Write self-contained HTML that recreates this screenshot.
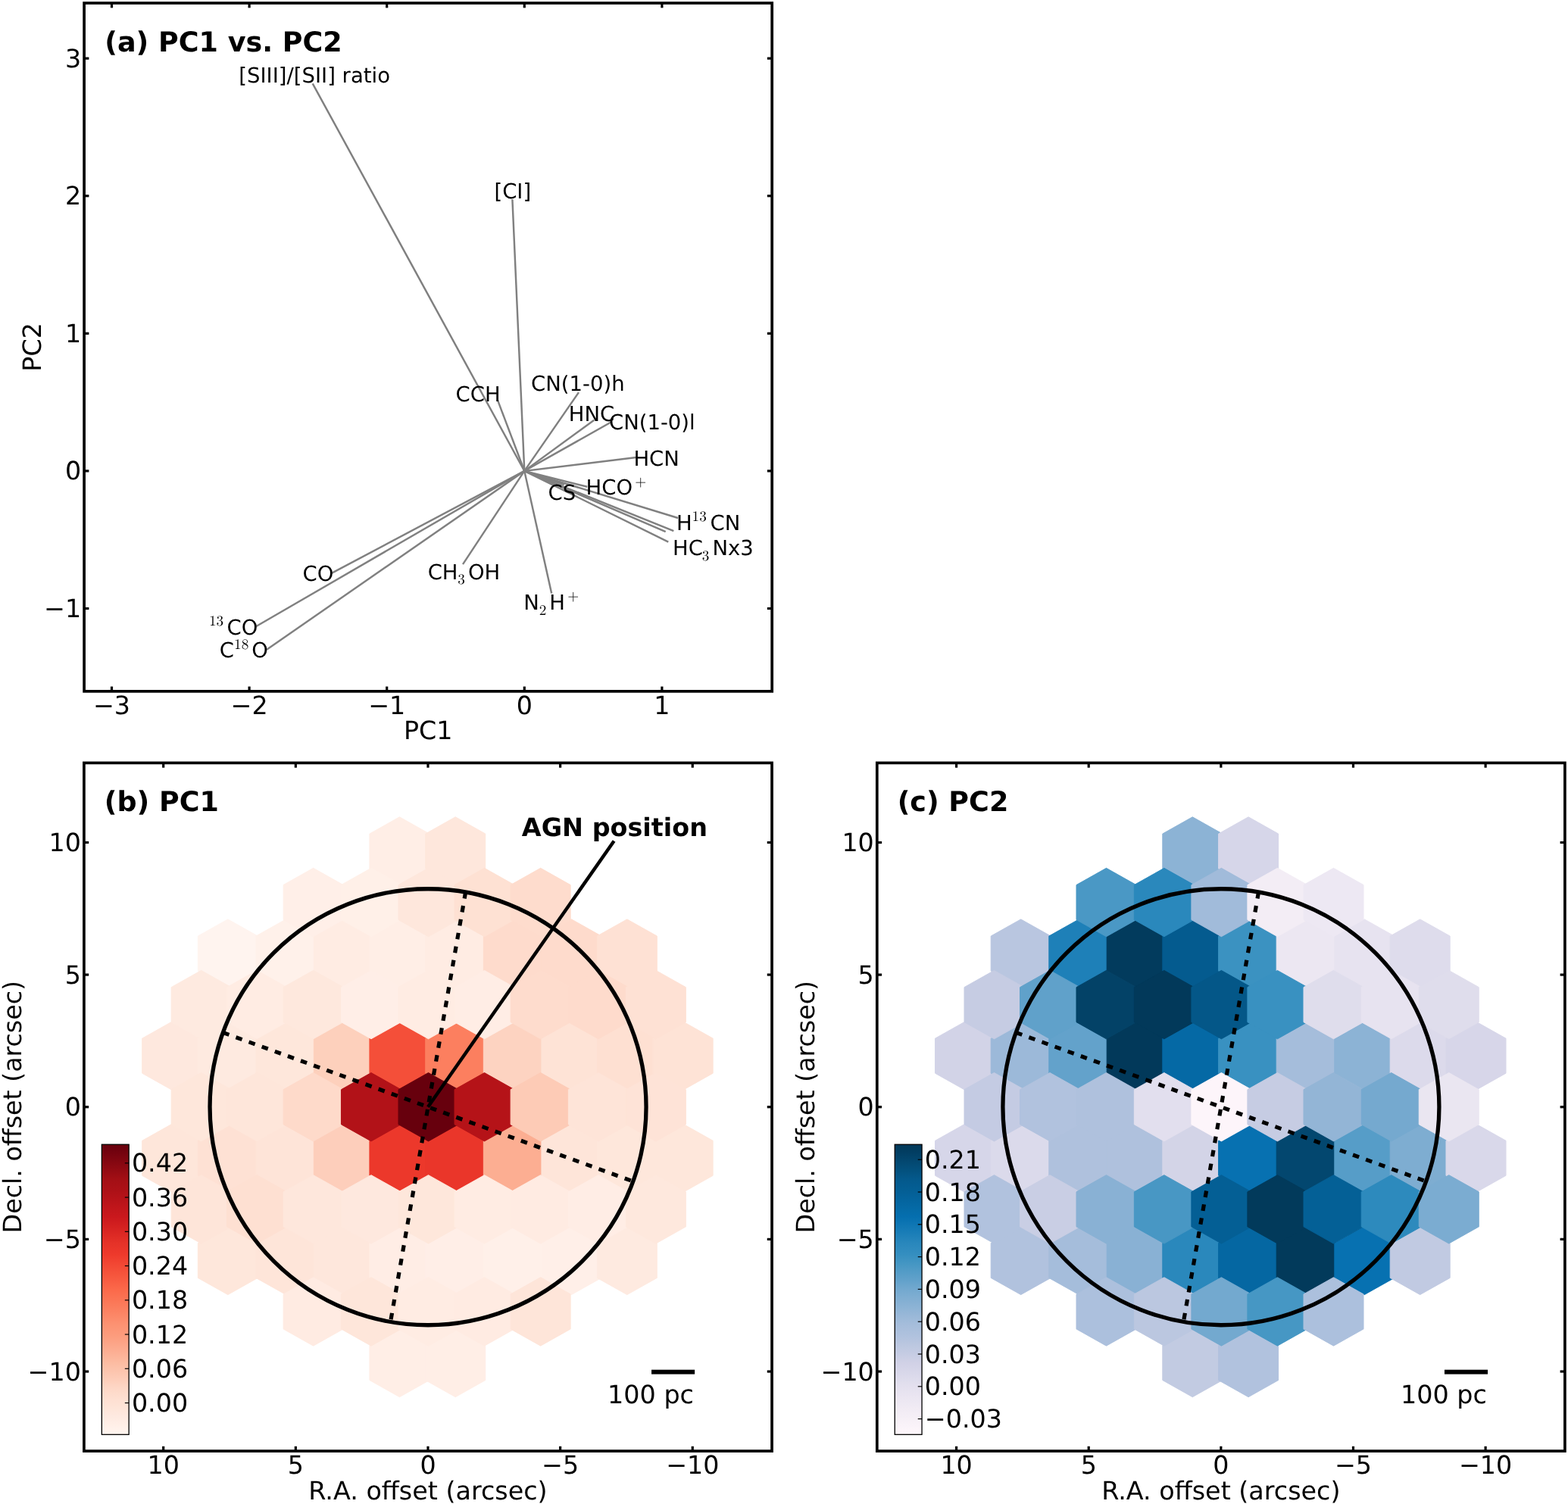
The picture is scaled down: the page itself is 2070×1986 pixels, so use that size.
<!DOCTYPE html>
<html><head><meta charset="utf-8"><title>PCA figure</title><style>html,body{margin:0;padding:0;background:#fff;}svg{display:block;}</style></head><body>
<svg width="2070" height="1986" viewBox="0 0 2070 1986" text-rendering="geometricPrecision">
<rect width="2070" height="1986" fill="#fff"/>
<g>
<line x1="692.3" y1="621.9" x2="413.3" y2="111.4" stroke="#808080" stroke-width="2.45" stroke-linecap="square"/>
<line x1="692.3" y1="621.9" x2="676.45" y2="264.5" stroke="#808080" stroke-width="2.45" stroke-linecap="square"/>
<line x1="692.3" y1="621.9" x2="657.2" y2="529" stroke="#808080" stroke-width="2.45" stroke-linecap="square"/>
<line x1="692.3" y1="621.9" x2="763.3" y2="519.1" stroke="#808080" stroke-width="2.45" stroke-linecap="square"/>
<line x1="692.3" y1="621.9" x2="783.3" y2="555.5" stroke="#808080" stroke-width="2.45" stroke-linecap="square"/>
<line x1="692.3" y1="621.9" x2="805.5" y2="558.1" stroke="#808080" stroke-width="2.45" stroke-linecap="square"/>
<line x1="692.3" y1="621.9" x2="838.6" y2="604.2" stroke="#808080" stroke-width="2.45" stroke-linecap="square"/>
<line x1="692.3" y1="621.9" x2="774.1" y2="642.5" stroke="#808080" stroke-width="2.45" stroke-linecap="square"/>
<line x1="692.3" y1="621.9" x2="743.5" y2="639.8" stroke="#808080" stroke-width="2.45" stroke-linecap="square"/>
<line x1="692.3" y1="621.9" x2="893.9" y2="683.6" stroke="#808080" stroke-width="2.45" stroke-linecap="square"/>
<line x1="692.3" y1="621.9" x2="888.2" y2="700.7" stroke="#808080" stroke-width="2.45" stroke-linecap="square"/>
<line x1="692.3" y1="621.9" x2="877.6" y2="701.7" stroke="#808080" stroke-width="2.45" stroke-linecap="square"/>
<line x1="692.3" y1="621.9" x2="881.2" y2="715" stroke="#808080" stroke-width="2.45" stroke-linecap="square"/>
<line x1="692.3" y1="621.9" x2="438.9" y2="756.3" stroke="#808080" stroke-width="2.45" stroke-linecap="square"/>
<line x1="692.3" y1="621.9" x2="339.4" y2="826.4" stroke="#808080" stroke-width="2.45" stroke-linecap="square"/>
<line x1="692.3" y1="621.9" x2="353.2" y2="857" stroke="#808080" stroke-width="2.45" stroke-linecap="square"/>
<line x1="692.3" y1="621.9" x2="611.7" y2="744.1" stroke="#808080" stroke-width="2.45" stroke-linecap="square"/>
<line x1="692.3" y1="621.9" x2="727.9" y2="782.3" stroke="#808080" stroke-width="2.45" stroke-linecap="square"/>
</g>
<text x="315.24" y="108.8" font-family="'DejaVu Sans','Liberation Sans',sans-serif" font-size="27.5">[SIII]/[SII] ratio</text>
<text x="652.44" y="261.8" font-family="'DejaVu Sans','Liberation Sans',sans-serif" font-size="27.5">[CI]</text>
<text x="601.56" y="529.7" font-family="'DejaVu Sans','Liberation Sans',sans-serif" font-size="27.5">CCH</text>
<text x="701.06" y="515.9" font-family="'DejaVu Sans','Liberation Sans',sans-serif" font-size="27.5">CN(1-0)h</text>
<text x="750.8" y="555.5" font-family="'DejaVu Sans','Liberation Sans',sans-serif" font-size="27.5">HNC</text>
<text x="803.96" y="567.1" font-family="'DejaVu Sans','Liberation Sans',sans-serif" font-size="27.5">CN(1-0)l</text>
<text x="836.4" y="614.6" font-family="'DejaVu Sans','Liberation Sans',sans-serif" font-size="27.5">HCN</text>
<text x="773.5" y="653.1" font-family="'DejaVu Sans','Liberation Sans',sans-serif" font-size="27.5">HCO</text>
<text x="838.32" y="641.8" font-family="'Latin Modern Roman','DejaVu Serif','Liberation Serif',serif" font-size="19.25">+</text>
<text x="723.56" y="660" font-family="'DejaVu Sans','Liberation Sans',sans-serif" font-size="27.5">CS</text>
<text x="893.1" y="699.7" font-family="'DejaVu Sans','Liberation Sans',sans-serif" font-size="27.5">H</text>
<text x="913.59" y="687.8" font-family="'Latin Modern Roman','DejaVu Serif','Liberation Serif',serif" font-size="19.25">13</text>
<text x="937.46" y="699.7" font-family="'DejaVu Sans','Liberation Sans',sans-serif" font-size="27.5">CN</text>
<text x="888" y="733" font-family="'DejaVu Sans','Liberation Sans',sans-serif" font-size="27.5">HC</text>
<text x="926.79" y="739.7" font-family="'Latin Modern Roman','DejaVu Serif','Liberation Serif',serif" font-size="19.25">3</text>
<text x="940.4" y="733" font-family="'DejaVu Sans','Liberation Sans',sans-serif" font-size="27.5">Nx3</text>
<text x="399.56" y="767.2" font-family="'DejaVu Sans','Liberation Sans',sans-serif" font-size="27.5">CO</text>
<text x="275.99" y="826.4" font-family="'Latin Modern Roman','DejaVu Serif','Liberation Serif',serif" font-size="19.25">13</text>
<text x="299.56" y="837.8" font-family="'DejaVu Sans','Liberation Sans',sans-serif" font-size="27.5">CO</text>
<text x="289.86" y="868.4" font-family="'DejaVu Sans','Liberation Sans',sans-serif" font-size="27.5">C</text>
<text x="309.09" y="857" font-family="'Latin Modern Roman','DejaVu Serif','Liberation Serif',serif" font-size="19.25">18</text>
<text x="332.26" y="868.4" font-family="'DejaVu Sans','Liberation Sans',sans-serif" font-size="27.5">O</text>
<text x="564.66" y="764.7" font-family="'DejaVu Sans','Liberation Sans',sans-serif" font-size="27.5">CH</text>
<text x="604.19" y="771.2" font-family="'Latin Modern Roman','DejaVu Serif','Liberation Serif',serif" font-size="19.25">3</text>
<text x="617.96" y="764.7" font-family="'DejaVu Sans','Liberation Sans',sans-serif" font-size="27.5">OH</text>
<text x="691.3" y="805" font-family="'DejaVu Sans','Liberation Sans',sans-serif" font-size="27.5">N</text>
<text x="711.74" y="811.5" font-family="'Latin Modern Roman','DejaVu Serif','Liberation Serif',serif" font-size="19.25">2</text>
<text x="725.2" y="805" font-family="'DejaVu Sans','Liberation Sans',sans-serif" font-size="27.5">H</text>
<text x="749.22" y="793" font-family="'Latin Modern Roman','DejaVu Serif','Liberation Serif',serif" font-size="19.25">+</text>
<line x1="147.5" y1="912.85" x2="147.5" y2="906.55" stroke="#000" stroke-width="3.2"/>
<line x1="147.5" y1="4.05" x2="147.5" y2="10.35" stroke="#000" stroke-width="3.2"/>
<text x="147.5" y="942.95" font-family="'DejaVu Sans','Liberation Sans',sans-serif" font-size="33.3" text-anchor="middle">−3</text>
<line x1="329.1" y1="912.85" x2="329.1" y2="906.55" stroke="#000" stroke-width="3.2"/>
<line x1="329.1" y1="4.05" x2="329.1" y2="10.35" stroke="#000" stroke-width="3.2"/>
<text x="329.1" y="942.95" font-family="'DejaVu Sans','Liberation Sans',sans-serif" font-size="33.3" text-anchor="middle">−2</text>
<line x1="510.7" y1="912.85" x2="510.7" y2="906.55" stroke="#000" stroke-width="3.2"/>
<line x1="510.7" y1="4.05" x2="510.7" y2="10.35" stroke="#000" stroke-width="3.2"/>
<text x="510.7" y="942.95" font-family="'DejaVu Sans','Liberation Sans',sans-serif" font-size="33.3" text-anchor="middle">−1</text>
<line x1="692.3" y1="912.85" x2="692.3" y2="906.55" stroke="#000" stroke-width="3.2"/>
<line x1="692.3" y1="4.05" x2="692.3" y2="10.35" stroke="#000" stroke-width="3.2"/>
<text x="692.3" y="942.95" font-family="'DejaVu Sans','Liberation Sans',sans-serif" font-size="33.3" text-anchor="middle">0</text>
<line x1="873.9" y1="912.85" x2="873.9" y2="906.55" stroke="#000" stroke-width="3.2"/>
<line x1="873.9" y1="4.05" x2="873.9" y2="10.35" stroke="#000" stroke-width="3.2"/>
<text x="873.9" y="942.95" font-family="'DejaVu Sans','Liberation Sans',sans-serif" font-size="33.3" text-anchor="middle">1</text>
<line x1="111.1" y1="803.5" x2="117.4" y2="803.5" stroke="#000" stroke-width="3.2"/>
<line x1="1019.2" y1="803.5" x2="1012.9" y2="803.5" stroke="#000" stroke-width="3.2"/>
<text x="107.1" y="815" font-family="'DejaVu Sans','Liberation Sans',sans-serif" font-size="33.3" text-anchor="end">−1</text>
<line x1="111.1" y1="621.9" x2="117.4" y2="621.9" stroke="#000" stroke-width="3.2"/>
<line x1="1019.2" y1="621.9" x2="1012.9" y2="621.9" stroke="#000" stroke-width="3.2"/>
<text x="107.1" y="633.4" font-family="'DejaVu Sans','Liberation Sans',sans-serif" font-size="33.3" text-anchor="end">0</text>
<line x1="111.1" y1="440.3" x2="117.4" y2="440.3" stroke="#000" stroke-width="3.2"/>
<line x1="1019.2" y1="440.3" x2="1012.9" y2="440.3" stroke="#000" stroke-width="3.2"/>
<text x="107.1" y="451.8" font-family="'DejaVu Sans','Liberation Sans',sans-serif" font-size="33.3" text-anchor="end">1</text>
<line x1="111.1" y1="258.7" x2="117.4" y2="258.7" stroke="#000" stroke-width="3.2"/>
<line x1="1019.2" y1="258.7" x2="1012.9" y2="258.7" stroke="#000" stroke-width="3.2"/>
<text x="107.1" y="270.2" font-family="'DejaVu Sans','Liberation Sans',sans-serif" font-size="33.3" text-anchor="end">2</text>
<line x1="111.1" y1="77.1" x2="117.4" y2="77.1" stroke="#000" stroke-width="3.2"/>
<line x1="1019.2" y1="77.1" x2="1012.9" y2="77.1" stroke="#000" stroke-width="3.2"/>
<text x="107.1" y="88.6" font-family="'DejaVu Sans','Liberation Sans',sans-serif" font-size="33.3" text-anchor="end">3</text>
<rect x="111.1" y="4.05" width="908.1" height="908.8" fill="none" stroke="#000" stroke-width="3.7" stroke-linejoin="miter"/>
<text x="565.15" y="975.7" font-family="'DejaVu Sans','Liberation Sans',sans-serif" font-size="33.3" text-anchor="middle">PC1</text>
<text transform="translate(53.8 458.45) rotate(-90)" font-family="'DejaVu Sans','Liberation Sans',sans-serif" font-size="33.3" text-anchor="middle">PC2</text>
<text x="138.31" y="67.9" font-family="'DejaVu Sans','Liberation Sans',sans-serif" font-size="36.5" font-weight="bold">(a) PC1 vs. PC2</text>
<clipPath id="clip110"><rect x="110.9" y="1007.4" width="908.16" height="908.7"/></clipPath>
<g clip-path="url(#clip110)">
<g>
<polygon points="527.43,1078.8 566.93,1101 566.93,1147 527.43,1169.2 487.93,1147 487.93,1101" fill="#ffeee6" stroke="#ffeee6" stroke-width="1"/>
<polygon points="601.23,1078.8 640.73,1101 640.73,1147 601.23,1169.2 561.73,1147 561.73,1101" fill="#fee7dc" stroke="#fee7dc" stroke-width="1"/>
<polygon points="300.83,1213.9 340.33,1236.1 340.33,1282.1 300.83,1304.3 261.33,1282.1 261.33,1236.1" fill="#fff4ef" stroke="#fff4ef" stroke-width="1"/>
<polygon points="377.43,1213.9 416.93,1236.1 416.93,1282.1 377.43,1304.3 337.93,1282.1 337.93,1236.1" fill="#fff1ea" stroke="#fff1ea" stroke-width="1"/>
<polygon points="453.83,1213.9 493.33,1236.1 493.33,1282.1 453.83,1304.3 414.33,1282.1 414.33,1236.1" fill="#ffece3" stroke="#ffece3" stroke-width="1"/>
<polygon points="527.43,1213.9 566.93,1236.1 566.93,1282.1 527.43,1304.3 487.93,1282.1 487.93,1236.1" fill="#ffeee6" stroke="#ffeee6" stroke-width="1"/>
<polygon points="601.23,1213.9 640.73,1236.1 640.73,1282.1 601.23,1304.3 561.73,1282.1 561.73,1236.1" fill="#ffece3" stroke="#ffece3" stroke-width="1"/>
<polygon points="677.83,1213.9 717.33,1236.1 717.33,1282.1 677.83,1304.3 638.33,1282.1 638.33,1236.1" fill="#fedbcc" stroke="#fedbcc" stroke-width="1"/>
<polygon points="754.43,1213.9 793.93,1236.1 793.93,1282.1 754.43,1304.3 714.93,1282.1 714.93,1236.1" fill="#fedbcc" stroke="#fedbcc" stroke-width="1"/>
<polygon points="827.83,1213.9 867.33,1236.1 867.33,1282.1 827.83,1304.3 788.33,1282.1 788.33,1236.1" fill="#fee1d4" stroke="#fee1d4" stroke-width="1"/>
<polygon points="227.18,1349 266.68,1371.2 266.68,1417.2 227.18,1439.4 187.68,1417.2 187.68,1371.2" fill="#fee8de" stroke="#fee8de" stroke-width="1"/>
<polygon points="300.83,1349 340.33,1371.2 340.33,1417.2 300.83,1439.4 261.33,1417.2 261.33,1371.2" fill="#feeae0" stroke="#feeae0" stroke-width="1"/>
<polygon points="377.43,1349 416.93,1371.2 416.93,1417.2 377.43,1439.4 337.93,1417.2 337.93,1371.2" fill="#fee7db" stroke="#fee7db" stroke-width="1"/>
<polygon points="453.83,1349 493.33,1371.2 493.33,1417.2 453.83,1439.4 414.33,1417.2 414.33,1371.2" fill="#fdd0bc" stroke="#fdd0bc" stroke-width="1"/>
<polygon points="527.43,1349 566.93,1371.2 566.93,1417.2 527.43,1439.4 487.93,1417.2 487.93,1371.2" fill="#f44f39" stroke="#f44f39" stroke-width="1"/>
<polygon points="601.23,1349 640.73,1371.2 640.73,1417.2 601.23,1439.4 561.73,1417.2 561.73,1371.2" fill="#fc7f5f" stroke="#fc7f5f" stroke-width="1"/>
<polygon points="677.83,1349 717.33,1371.2 717.33,1417.2 677.83,1439.4 638.33,1417.2 638.33,1371.2" fill="#fdd3c1" stroke="#fdd3c1" stroke-width="1"/>
<polygon points="754.43,1349 793.93,1371.2 793.93,1417.2 754.43,1439.4 714.93,1417.2 714.93,1371.2" fill="#fee3d6" stroke="#fee3d6" stroke-width="1"/>
<polygon points="827.83,1349 867.33,1371.2 867.33,1417.2 827.83,1439.4 788.33,1417.2 788.33,1371.2" fill="#fee0d2" stroke="#fee0d2" stroke-width="1"/>
<polygon points="901.63,1349 941.13,1371.2 941.13,1417.2 901.63,1439.4 862.13,1417.2 862.13,1371.2" fill="#fee3d6" stroke="#fee3d6" stroke-width="1"/>
<polygon points="227.18,1484.1 266.68,1506.3 266.68,1552.3 227.18,1574.5 187.68,1552.3 187.68,1506.3" fill="#fee6da" stroke="#fee6da" stroke-width="1"/>
<polygon points="300.83,1484.1 340.33,1506.3 340.33,1552.3 300.83,1574.5 261.33,1552.3 261.33,1506.3" fill="#fee1d4" stroke="#fee1d4" stroke-width="1"/>
<polygon points="377.43,1484.1 416.93,1506.3 416.93,1552.3 377.43,1574.5 337.93,1552.3 337.93,1506.3" fill="#fee4d8" stroke="#fee4d8" stroke-width="1"/>
<polygon points="453.83,1484.1 493.33,1506.3 493.33,1552.3 453.83,1574.5 414.33,1552.3 414.33,1506.3" fill="#fdcebb" stroke="#fdcebb" stroke-width="1"/>
<polygon points="527.43,1484.1 566.93,1506.3 566.93,1552.3 527.43,1574.5 487.93,1552.3 487.93,1506.3" fill="#ec382b" stroke="#ec382b" stroke-width="1"/>
<polygon points="601.23,1484.1 640.73,1506.3 640.73,1552.3 601.23,1574.5 561.73,1552.3 561.73,1506.3" fill="#ea362a" stroke="#ea362a" stroke-width="1"/>
<polygon points="677.83,1484.1 717.33,1506.3 717.33,1552.3 677.83,1574.5 638.33,1552.3 638.33,1506.3" fill="#fcae92" stroke="#fcae92" stroke-width="1"/>
<polygon points="754.43,1484.1 793.93,1506.3 793.93,1552.3 754.43,1574.5 714.93,1552.3 714.93,1506.3" fill="#fee5d9" stroke="#fee5d9" stroke-width="1"/>
<polygon points="827.83,1484.1 867.33,1506.3 867.33,1552.3 827.83,1574.5 788.33,1552.3 788.33,1506.3" fill="#fee7db" stroke="#fee7db" stroke-width="1"/>
<polygon points="901.63,1484.1 941.13,1506.3 941.13,1552.3 901.63,1574.5 862.13,1552.3 862.13,1506.3" fill="#fee7db" stroke="#fee7db" stroke-width="1"/>
<polygon points="300.83,1619.2 340.33,1641.4 340.33,1687.4 300.83,1709.6 261.33,1687.4 261.33,1641.4" fill="#fee7db" stroke="#fee7db" stroke-width="1"/>
<polygon points="377.43,1619.2 416.93,1641.4 416.93,1687.4 377.43,1709.6 337.93,1687.4 337.93,1641.4" fill="#fee5d9" stroke="#fee5d9" stroke-width="1"/>
<polygon points="453.83,1619.2 493.33,1641.4 493.33,1687.4 453.83,1709.6 414.33,1687.4 414.33,1641.4" fill="#fee7dc" stroke="#fee7dc" stroke-width="1"/>
<polygon points="527.43,1619.2 566.93,1641.4 566.93,1687.4 527.43,1709.6 487.93,1687.4 487.93,1641.4" fill="#ffede5" stroke="#ffede5" stroke-width="1"/>
<polygon points="601.23,1619.2 640.73,1641.4 640.73,1687.4 601.23,1709.6 561.73,1687.4 561.73,1641.4" fill="#ffeee7" stroke="#ffeee7" stroke-width="1"/>
<polygon points="677.83,1619.2 717.33,1641.4 717.33,1687.4 677.83,1709.6 638.33,1687.4 638.33,1641.4" fill="#fff0e9" stroke="#fff0e9" stroke-width="1"/>
<polygon points="754.43,1619.2 793.93,1641.4 793.93,1687.4 754.43,1709.6 714.93,1687.4 714.93,1641.4" fill="#ffefe8" stroke="#ffefe8" stroke-width="1"/>
<polygon points="827.83,1619.2 867.33,1641.4 867.33,1687.4 827.83,1709.6 788.33,1687.4 788.33,1641.4" fill="#feeae0" stroke="#feeae0" stroke-width="1"/>
<polygon points="527.43,1754.3 566.93,1776.5 566.93,1822.5 527.43,1844.7 487.93,1822.5 487.93,1776.5" fill="#ffeee6" stroke="#ffeee6" stroke-width="1"/>
<polygon points="601.23,1754.3 640.73,1776.5 640.73,1822.5 601.23,1844.7 561.73,1822.5 561.73,1776.5" fill="#ffeee6" stroke="#ffeee6" stroke-width="1"/>
<polygon points="413.63,1146.35 453.13,1168.55 453.13,1214.55 413.63,1236.75 374.13,1214.55 374.13,1168.55" fill="#ffefe8" stroke="#ffefe8" stroke-width="1"/>
<polygon points="489.98,1146.35 529.48,1168.55 529.48,1214.55 489.98,1236.75 450.48,1214.55 450.48,1168.55" fill="#fff0e8" stroke="#fff0e8" stroke-width="1"/>
<polygon points="565.53,1146.35 605.03,1168.55 605.03,1214.55 565.53,1236.75 526.03,1214.55 526.03,1168.55" fill="#fee7dc" stroke="#fee7dc" stroke-width="1"/>
<polygon points="639.53,1146.35 679.03,1168.55 679.03,1214.55 639.53,1236.75 600.03,1214.55 600.03,1168.55" fill="#fee1d3" stroke="#fee1d3" stroke-width="1"/>
<polygon points="713.63,1146.35 753.13,1168.55 753.13,1214.55 713.63,1236.75 674.13,1214.55 674.13,1168.55" fill="#fedccd" stroke="#fedccd" stroke-width="1"/>
<polygon points="265.63,1281.45 305.13,1303.65 305.13,1349.65 265.63,1371.85 226.13,1349.65 226.13,1303.65" fill="#feeae0" stroke="#feeae0" stroke-width="1"/>
<polygon points="339.18,1281.45 378.68,1303.65 378.68,1349.65 339.18,1371.85 299.68,1349.65 299.68,1303.65" fill="#ffece3" stroke="#ffece3" stroke-width="1"/>
<polygon points="413.63,1281.45 453.13,1303.65 453.13,1349.65 413.63,1371.85 374.13,1349.65 374.13,1303.65" fill="#fee8dd" stroke="#fee8dd" stroke-width="1"/>
<polygon points="489.98,1281.45 529.48,1303.65 529.48,1349.65 489.98,1371.85 450.48,1349.65 450.48,1303.65" fill="#ffeee7" stroke="#ffeee7" stroke-width="1"/>
<polygon points="565.53,1281.45 605.03,1303.65 605.03,1349.65 565.53,1371.85 526.03,1349.65 526.03,1303.65" fill="#ffece3" stroke="#ffece3" stroke-width="1"/>
<polygon points="639.53,1281.45 679.03,1303.65 679.03,1349.65 639.53,1371.85 600.03,1349.65 600.03,1303.65" fill="#ffede5" stroke="#ffede5" stroke-width="1"/>
<polygon points="713.63,1281.45 753.13,1303.65 753.13,1349.65 713.63,1371.85 674.13,1349.65 674.13,1303.65" fill="#fedccd" stroke="#fedccd" stroke-width="1"/>
<polygon points="789.88,1281.45 829.38,1303.65 829.38,1349.65 789.88,1371.85 750.38,1349.65 750.38,1303.65" fill="#fedbcc" stroke="#fedbcc" stroke-width="1"/>
<polygon points="865.88,1281.45 905.38,1303.65 905.38,1349.65 865.88,1371.85 826.38,1349.65 826.38,1303.65" fill="#fee1d4" stroke="#fee1d4" stroke-width="1"/>
<polygon points="265.63,1416.55 305.13,1438.75 305.13,1484.75 265.63,1506.95 226.13,1484.75 226.13,1438.75" fill="#fee7db" stroke="#fee7db" stroke-width="1"/>
<polygon points="339.18,1416.55 378.68,1438.75 378.68,1484.75 339.18,1506.95 299.68,1484.75 299.68,1438.75" fill="#fee6da" stroke="#fee6da" stroke-width="1"/>
<polygon points="413.63,1416.55 453.13,1438.75 453.13,1484.75 413.63,1506.95 374.13,1484.75 374.13,1438.75" fill="#fedaca" stroke="#fedaca" stroke-width="1"/>
<polygon points="489.98,1416.55 529.48,1438.75 529.48,1484.75 489.98,1506.95 450.48,1484.75 450.48,1438.75" fill="#b21218" stroke="#b21218" stroke-width="1"/>
<polygon points="565.53,1416.55 605.03,1438.75 605.03,1484.75 565.53,1506.95 526.03,1484.75 526.03,1438.75" fill="#67000d" stroke="#67000d" stroke-width="1"/>
<polygon points="639.53,1416.55 679.03,1438.75 679.03,1484.75 639.53,1506.95 600.03,1484.75 600.03,1438.75" fill="#b51318" stroke="#b51318" stroke-width="1"/>
<polygon points="713.63,1416.55 753.13,1438.75 753.13,1484.75 713.63,1506.95 674.13,1484.75 674.13,1438.75" fill="#fdcbb6" stroke="#fdcbb6" stroke-width="1"/>
<polygon points="789.88,1416.55 829.38,1438.75 829.38,1484.75 789.88,1506.95 750.38,1484.75 750.38,1438.75" fill="#fee4d8" stroke="#fee4d8" stroke-width="1"/>
<polygon points="865.88,1416.55 905.38,1438.75 905.38,1484.75 865.88,1506.95 826.38,1484.75 826.38,1438.75" fill="#fee3d7" stroke="#fee3d7" stroke-width="1"/>
<polygon points="265.63,1551.65 305.13,1573.85 305.13,1619.85 265.63,1642.05 226.13,1619.85 226.13,1573.85" fill="#fee5d9" stroke="#fee5d9" stroke-width="1"/>
<polygon points="339.18,1551.65 378.68,1573.85 378.68,1619.85 339.18,1642.05 299.68,1619.85 299.68,1573.85" fill="#fee0d2" stroke="#fee0d2" stroke-width="1"/>
<polygon points="413.63,1551.65 453.13,1573.85 453.13,1619.85 413.63,1642.05 374.13,1619.85 374.13,1573.85" fill="#fee7dc" stroke="#fee7dc" stroke-width="1"/>
<polygon points="489.98,1551.65 529.48,1573.85 529.48,1619.85 489.98,1642.05 450.48,1619.85 450.48,1573.85" fill="#fee8de" stroke="#fee8de" stroke-width="1"/>
<polygon points="565.53,1551.65 605.03,1573.85 605.03,1619.85 565.53,1642.05 526.03,1619.85 526.03,1573.85" fill="#fee7db" stroke="#fee7db" stroke-width="1"/>
<polygon points="639.53,1551.65 679.03,1573.85 679.03,1619.85 639.53,1642.05 600.03,1619.85 600.03,1573.85" fill="#ffece3" stroke="#ffece3" stroke-width="1"/>
<polygon points="713.63,1551.65 753.13,1573.85 753.13,1619.85 713.63,1642.05 674.13,1619.85 674.13,1573.85" fill="#ffebe2" stroke="#ffebe2" stroke-width="1"/>
<polygon points="789.88,1551.65 829.38,1573.85 829.38,1619.85 789.88,1642.05 750.38,1619.85 750.38,1573.85" fill="#ffede5" stroke="#ffede5" stroke-width="1"/>
<polygon points="865.88,1551.65 905.38,1573.85 905.38,1619.85 865.88,1642.05 826.38,1619.85 826.38,1573.85" fill="#fee8dd" stroke="#fee8dd" stroke-width="1"/>
<polygon points="413.63,1686.75 453.13,1708.95 453.13,1754.95 413.63,1777.15 374.13,1754.95 374.13,1708.95" fill="#ffebe2" stroke="#ffebe2" stroke-width="1"/>
<polygon points="489.98,1686.75 529.48,1708.95 529.48,1754.95 489.98,1777.15 450.48,1754.95 450.48,1708.95" fill="#fee6da" stroke="#fee6da" stroke-width="1"/>
<polygon points="565.53,1686.75 605.03,1708.95 605.03,1754.95 565.53,1777.15 526.03,1754.95 526.03,1708.95" fill="#ffece3" stroke="#ffece3" stroke-width="1"/>
<polygon points="639.53,1686.75 679.03,1708.95 679.03,1754.95 639.53,1777.15 600.03,1754.95 600.03,1708.95" fill="#ffebe2" stroke="#ffebe2" stroke-width="1"/>
<polygon points="713.63,1686.75 753.13,1708.95 753.13,1754.95 713.63,1777.15 674.13,1754.95 674.13,1708.95" fill="#fee5d9" stroke="#fee5d9" stroke-width="1"/>
</g>
<line x1="614.64" y1="1178.05" x2="515.52" y2="1745.45" stroke="#000" stroke-width="5.2" stroke-dasharray="8.6 9.6"/>
<line x1="294.36" y1="1363.48" x2="835.8" y2="1560.02" stroke="#000" stroke-width="5.2" stroke-dasharray="8.6 9.6"/>
<circle cx="565.05" cy="1461.75" r="288" fill="none" stroke="#000" stroke-width="5.3"/>
<line x1="564.98" y1="1461.75" x2="810.6" y2="1110.5" stroke="#000" stroke-width="4.5"/>
<text x="688.84" y="1103.8" font-family="'DejaVu Sans','Liberation Sans',sans-serif" font-size="33.4" font-weight="bold">AGN position</text>
<rect x="860.05" y="1808.7" width="57.1" height="5.9" fill="#000"/>
<text x="915.95" y="1853.2" font-family="'DejaVu Sans','Liberation Sans',sans-serif" font-size="33.4" text-anchor="end">100 pc</text>
</g>
<linearGradient id="grad110" x1="0" y1="0" x2="0" y2="1"><stop offset="0" stop-color="#67000d"/><stop offset="0.03" stop-color="#75030f"/><stop offset="0.06" stop-color="#840711"/><stop offset="0.09" stop-color="#940b13"/><stop offset="0.12" stop-color="#a30f15"/><stop offset="0.16" stop-color="#ad1117"/><stop offset="0.19" stop-color="#b71319"/><stop offset="0.22" stop-color="#c1161b"/><stop offset="0.25" stop-color="#ca181d"/><stop offset="0.28" stop-color="#d32020"/><stop offset="0.31" stop-color="#dc2924"/><stop offset="0.34" stop-color="#e53228"/><stop offset="0.38" stop-color="#ee3a2c"/><stop offset="0.41" stop-color="#f24633"/><stop offset="0.44" stop-color="#f5523a"/><stop offset="0.47" stop-color="#f85d42"/><stop offset="0.5" stop-color="#fb694a"/><stop offset="0.53" stop-color="#fb7353"/><stop offset="0.56" stop-color="#fb7d5d"/><stop offset="0.59" stop-color="#fc8767"/><stop offset="0.62" stop-color="#fc9272"/><stop offset="0.66" stop-color="#fc9c7d"/><stop offset="0.69" stop-color="#fca689"/><stop offset="0.72" stop-color="#fcb095"/><stop offset="0.75" stop-color="#fcbba1"/><stop offset="0.78" stop-color="#fcc4ad"/><stop offset="0.81" stop-color="#fdcdb9"/><stop offset="0.84" stop-color="#fdd7c6"/><stop offset="0.88" stop-color="#fee0d2"/><stop offset="0.91" stop-color="#fee5d9"/><stop offset="0.94" stop-color="#feeae1"/><stop offset="0.97" stop-color="#fff0e8"/><stop offset="1" stop-color="#fff5f0"/></linearGradient>
<rect x="134.35" y="1511.25" width="35.8" height="383.05" fill="url(#grad110)"/>
<line x1="170.15" y1="1852.53" x2="164.85" y2="1852.53" stroke="#000" stroke-width="1.2"/>
<text x="173.95" y="1864.03" font-family="'DejaVu Sans','Liberation Sans',sans-serif" font-size="33.3">0.00</text>
<line x1="170.15" y1="1807.28" x2="164.85" y2="1807.28" stroke="#000" stroke-width="1.2"/>
<text x="173.95" y="1818.78" font-family="'DejaVu Sans','Liberation Sans',sans-serif" font-size="33.3">0.06</text>
<line x1="170.15" y1="1762.04" x2="164.85" y2="1762.04" stroke="#000" stroke-width="1.2"/>
<text x="173.95" y="1773.54" font-family="'DejaVu Sans','Liberation Sans',sans-serif" font-size="33.3">0.12</text>
<line x1="170.15" y1="1716.8" x2="164.85" y2="1716.8" stroke="#000" stroke-width="1.2"/>
<text x="173.95" y="1728.3" font-family="'DejaVu Sans','Liberation Sans',sans-serif" font-size="33.3">0.18</text>
<line x1="170.15" y1="1671.56" x2="164.85" y2="1671.56" stroke="#000" stroke-width="1.2"/>
<text x="173.95" y="1683.06" font-family="'DejaVu Sans','Liberation Sans',sans-serif" font-size="33.3">0.24</text>
<line x1="170.15" y1="1626.32" x2="164.85" y2="1626.32" stroke="#000" stroke-width="1.2"/>
<text x="173.95" y="1637.82" font-family="'DejaVu Sans','Liberation Sans',sans-serif" font-size="33.3">0.30</text>
<line x1="170.15" y1="1581.07" x2="164.85" y2="1581.07" stroke="#000" stroke-width="1.2"/>
<text x="173.95" y="1592.57" font-family="'DejaVu Sans','Liberation Sans',sans-serif" font-size="33.3">0.36</text>
<line x1="170.15" y1="1535.83" x2="164.85" y2="1535.83" stroke="#000" stroke-width="1.2"/>
<text x="173.95" y="1547.33" font-family="'DejaVu Sans','Liberation Sans',sans-serif" font-size="33.3">0.42</text>
<rect x="134.35" y="1511.25" width="35.8" height="383.05" fill="none" stroke="#000" stroke-width="1.3"/>
<line x1="215.69" y1="1916.1" x2="215.69" y2="1909.8" stroke="#000" stroke-width="3.2"/>
<line x1="215.69" y1="1007.4" x2="215.69" y2="1013.7" stroke="#000" stroke-width="3.2"/>
<text x="215.69" y="1946.2" font-family="'DejaVu Sans','Liberation Sans',sans-serif" font-size="33.3" text-anchor="middle">10</text>
<line x1="390.33" y1="1916.1" x2="390.33" y2="1909.8" stroke="#000" stroke-width="3.2"/>
<line x1="390.33" y1="1007.4" x2="390.33" y2="1013.7" stroke="#000" stroke-width="3.2"/>
<text x="390.33" y="1946.2" font-family="'DejaVu Sans','Liberation Sans',sans-serif" font-size="33.3" text-anchor="middle">5</text>
<line x1="564.98" y1="1916.1" x2="564.98" y2="1909.8" stroke="#000" stroke-width="3.2"/>
<line x1="564.98" y1="1007.4" x2="564.98" y2="1013.7" stroke="#000" stroke-width="3.2"/>
<text x="564.98" y="1946.2" font-family="'DejaVu Sans','Liberation Sans',sans-serif" font-size="33.3" text-anchor="middle">0</text>
<line x1="739.63" y1="1916.1" x2="739.63" y2="1909.8" stroke="#000" stroke-width="3.2"/>
<line x1="739.63" y1="1007.4" x2="739.63" y2="1013.7" stroke="#000" stroke-width="3.2"/>
<text x="739.63" y="1946.2" font-family="'DejaVu Sans','Liberation Sans',sans-serif" font-size="33.3" text-anchor="middle">−5</text>
<line x1="914.27" y1="1916.1" x2="914.27" y2="1909.8" stroke="#000" stroke-width="3.2"/>
<line x1="914.27" y1="1007.4" x2="914.27" y2="1013.7" stroke="#000" stroke-width="3.2"/>
<text x="914.27" y="1946.2" font-family="'DejaVu Sans','Liberation Sans',sans-serif" font-size="33.3" text-anchor="middle">−10</text>
<line x1="110.9" y1="1811.04" x2="117.2" y2="1811.04" stroke="#000" stroke-width="3.2"/>
<line x1="1019.06" y1="1811.04" x2="1012.76" y2="1811.04" stroke="#000" stroke-width="3.2"/>
<text x="106.9" y="1822.54" font-family="'DejaVu Sans','Liberation Sans',sans-serif" font-size="33.3" text-anchor="end">−10</text>
<line x1="110.9" y1="1636.4" x2="117.2" y2="1636.4" stroke="#000" stroke-width="3.2"/>
<line x1="1019.06" y1="1636.4" x2="1012.76" y2="1636.4" stroke="#000" stroke-width="3.2"/>
<text x="106.9" y="1647.9" font-family="'DejaVu Sans','Liberation Sans',sans-serif" font-size="33.3" text-anchor="end">−5</text>
<line x1="110.9" y1="1461.75" x2="117.2" y2="1461.75" stroke="#000" stroke-width="3.2"/>
<line x1="1019.06" y1="1461.75" x2="1012.76" y2="1461.75" stroke="#000" stroke-width="3.2"/>
<text x="106.9" y="1473.25" font-family="'DejaVu Sans','Liberation Sans',sans-serif" font-size="33.3" text-anchor="end">0</text>
<line x1="110.9" y1="1287.1" x2="117.2" y2="1287.1" stroke="#000" stroke-width="3.2"/>
<line x1="1019.06" y1="1287.1" x2="1012.76" y2="1287.1" stroke="#000" stroke-width="3.2"/>
<text x="106.9" y="1298.6" font-family="'DejaVu Sans','Liberation Sans',sans-serif" font-size="33.3" text-anchor="end">5</text>
<line x1="110.9" y1="1112.46" x2="117.2" y2="1112.46" stroke="#000" stroke-width="3.2"/>
<line x1="1019.06" y1="1112.46" x2="1012.76" y2="1112.46" stroke="#000" stroke-width="3.2"/>
<text x="106.9" y="1123.96" font-family="'DejaVu Sans','Liberation Sans',sans-serif" font-size="33.3" text-anchor="end">10</text>
<rect x="110.9" y="1007.4" width="908.16" height="908.7" fill="none" stroke="#000" stroke-width="3.7" stroke-linejoin="miter"/>
<text x="564.98" y="1979.9" font-family="'DejaVu Sans','Liberation Sans',sans-serif" font-size="33.4" text-anchor="middle">R.A. offset (arcsec)</text>
<text transform="translate(27.95 1461.75) rotate(-90)" font-family="'DejaVu Sans','Liberation Sans',sans-serif" font-size="33.3" text-anchor="middle">Decl. offset (arcsec)</text>
<text x="137.76" y="1071.2" font-family="'DejaVu Sans','Liberation Sans',sans-serif" font-size="36.5" font-weight="bold">(b) PC1</text>
<clipPath id="clip1157"><rect x="1157.8" y="1007.4" width="908.1" height="908.7"/></clipPath>
<g clip-path="url(#clip1157)">
<g>
<polygon points="1574.3,1078.8 1613.8,1101 1613.8,1147 1574.3,1169.2 1534.8,1147 1534.8,1101" fill="#8cb3d5" stroke="#8cb3d5" stroke-width="1"/>
<polygon points="1648.1,1078.8 1687.6,1101 1687.6,1147 1648.1,1169.2 1608.6,1147 1608.6,1101" fill="#d6d6e9" stroke="#d6d6e9" stroke-width="1"/>
<polygon points="1347.7,1213.9 1387.2,1236.1 1387.2,1282.1 1347.7,1304.3 1308.2,1282.1 1308.2,1236.1" fill="#b9c6e0" stroke="#b9c6e0" stroke-width="1"/>
<polygon points="1424.3,1213.9 1463.8,1236.1 1463.8,1282.1 1424.3,1304.3 1384.8,1282.1 1384.8,1236.1" fill="#1e80b8" stroke="#1e80b8" stroke-width="1"/>
<polygon points="1500.7,1213.9 1540.2,1236.1 1540.2,1282.1 1500.7,1304.3 1461.2,1282.1 1461.2,1236.1" fill="#023b5d" stroke="#023b5d" stroke-width="1"/>
<polygon points="1574.3,1213.9 1613.8,1236.1 1613.8,1282.1 1574.3,1304.3 1534.8,1282.1 1534.8,1236.1" fill="#045b8f" stroke="#045b8f" stroke-width="1"/>
<polygon points="1648.1,1213.9 1687.6,1236.1 1687.6,1282.1 1648.1,1304.3 1608.6,1282.1 1608.6,1236.1" fill="#3b92c1" stroke="#3b92c1" stroke-width="1"/>
<polygon points="1724.7,1213.9 1764.2,1236.1 1764.2,1282.1 1724.7,1304.3 1685.2,1282.1 1685.2,1236.1" fill="#ece7f2" stroke="#ece7f2" stroke-width="1"/>
<polygon points="1801.3,1213.9 1840.8,1236.1 1840.8,1282.1 1801.3,1304.3 1761.8,1282.1 1761.8,1236.1" fill="#e7e3f0" stroke="#e7e3f0" stroke-width="1"/>
<polygon points="1874.7,1213.9 1914.2,1236.1 1914.2,1282.1 1874.7,1304.3 1835.2,1282.1 1835.2,1236.1" fill="#dedcec" stroke="#dedcec" stroke-width="1"/>
<polygon points="1274.05,1349 1313.55,1371.2 1313.55,1417.2 1274.05,1439.4 1234.55,1417.2 1234.55,1371.2" fill="#d2d3e7" stroke="#d2d3e7" stroke-width="1"/>
<polygon points="1347.7,1349 1387.2,1371.2 1387.2,1417.2 1347.7,1439.4 1308.2,1417.2 1308.2,1371.2" fill="#9cb9d9" stroke="#9cb9d9" stroke-width="1"/>
<polygon points="1424.3,1349 1463.8,1371.2 1463.8,1417.2 1424.3,1439.4 1384.8,1417.2 1384.8,1371.2" fill="#63a2cb" stroke="#63a2cb" stroke-width="1"/>
<polygon points="1500.7,1349 1540.2,1371.2 1540.2,1417.2 1500.7,1439.4 1461.2,1417.2 1461.2,1371.2" fill="#02395a" stroke="#02395a" stroke-width="1"/>
<polygon points="1574.3,1349 1613.8,1371.2 1613.8,1417.2 1574.3,1439.4 1534.8,1417.2 1534.8,1371.2" fill="#0569a5" stroke="#0569a5" stroke-width="1"/>
<polygon points="1648.1,1349 1687.6,1371.2 1687.6,1417.2 1648.1,1439.4 1608.6,1417.2 1608.6,1371.2" fill="#3991c1" stroke="#3991c1" stroke-width="1"/>
<polygon points="1724.7,1349 1764.2,1371.2 1764.2,1417.2 1724.7,1439.4 1685.2,1417.2 1685.2,1371.2" fill="#a5bddb" stroke="#a5bddb" stroke-width="1"/>
<polygon points="1801.3,1349 1840.8,1371.2 1840.8,1417.2 1801.3,1439.4 1761.8,1417.2 1761.8,1371.2" fill="#8cb3d5" stroke="#8cb3d5" stroke-width="1"/>
<polygon points="1874.7,1349 1914.2,1371.2 1914.2,1417.2 1874.7,1439.4 1835.2,1417.2 1835.2,1371.2" fill="#dcdaeb" stroke="#dcdaeb" stroke-width="1"/>
<polygon points="1948.5,1349 1988,1371.2 1988,1417.2 1948.5,1439.4 1909,1417.2 1909,1371.2" fill="#d7d6e9" stroke="#d7d6e9" stroke-width="1"/>
<polygon points="1274.05,1484.1 1313.55,1506.3 1313.55,1552.3 1274.05,1574.5 1234.55,1552.3 1234.55,1506.3" fill="#d6d6e9" stroke="#d6d6e9" stroke-width="1"/>
<polygon points="1347.7,1484.1 1387.2,1506.3 1387.2,1552.3 1347.7,1574.5 1308.2,1552.3 1308.2,1506.3" fill="#dbdaeb" stroke="#dbdaeb" stroke-width="1"/>
<polygon points="1424.3,1484.1 1463.8,1506.3 1463.8,1552.3 1424.3,1574.5 1384.8,1552.3 1384.8,1506.3" fill="#afc1dd" stroke="#afc1dd" stroke-width="1"/>
<polygon points="1500.7,1484.1 1540.2,1506.3 1540.2,1552.3 1500.7,1574.5 1461.2,1552.3 1461.2,1506.3" fill="#afc1dd" stroke="#afc1dd" stroke-width="1"/>
<polygon points="1574.3,1484.1 1613.8,1506.3 1613.8,1552.3 1574.3,1574.5 1534.8,1552.3 1534.8,1506.3" fill="#d3d4e7" stroke="#d3d4e7" stroke-width="1"/>
<polygon points="1648.1,1484.1 1687.6,1506.3 1687.6,1552.3 1648.1,1574.5 1608.6,1552.3 1608.6,1506.3" fill="#0771b1" stroke="#0771b1" stroke-width="1"/>
<polygon points="1724.7,1484.1 1764.2,1506.3 1764.2,1552.3 1724.7,1574.5 1685.2,1552.3 1685.2,1506.3" fill="#03476f" stroke="#03476f" stroke-width="1"/>
<polygon points="1801.3,1484.1 1840.8,1506.3 1840.8,1552.3 1801.3,1574.5 1761.8,1552.3 1761.8,1506.3" fill="#569dc8" stroke="#569dc8" stroke-width="1"/>
<polygon points="1874.7,1484.1 1914.2,1506.3 1914.2,1552.3 1874.7,1574.5 1835.2,1552.3 1835.2,1506.3" fill="#7eadd1" stroke="#7eadd1" stroke-width="1"/>
<polygon points="1948.5,1484.1 1988,1506.3 1988,1552.3 1948.5,1574.5 1909,1552.3 1909,1506.3" fill="#d9d8ea" stroke="#d9d8ea" stroke-width="1"/>
<polygon points="1347.7,1619.2 1387.2,1641.4 1387.2,1687.4 1347.7,1709.6 1308.2,1687.4 1308.2,1641.4" fill="#b1c2de" stroke="#b1c2de" stroke-width="1"/>
<polygon points="1424.3,1619.2 1463.8,1641.4 1463.8,1687.4 1424.3,1709.6 1384.8,1687.4 1384.8,1641.4" fill="#a5bddb" stroke="#a5bddb" stroke-width="1"/>
<polygon points="1500.7,1619.2 1540.2,1641.4 1540.2,1687.4 1500.7,1709.6 1461.2,1687.4 1461.2,1641.4" fill="#89b1d4" stroke="#89b1d4" stroke-width="1"/>
<polygon points="1574.3,1619.2 1613.8,1641.4 1613.8,1687.4 1574.3,1709.6 1534.8,1687.4 1534.8,1641.4" fill="#2a88bc" stroke="#2a88bc" stroke-width="1"/>
<polygon points="1648.1,1619.2 1687.6,1641.4 1687.6,1687.4 1648.1,1709.6 1608.6,1687.4 1608.6,1641.4" fill="#0567a2" stroke="#0567a2" stroke-width="1"/>
<polygon points="1724.7,1619.2 1764.2,1641.4 1764.2,1687.4 1724.7,1709.6 1685.2,1687.4 1685.2,1641.4" fill="#023a5b" stroke="#023a5b" stroke-width="1"/>
<polygon points="1801.3,1619.2 1840.8,1641.4 1840.8,1687.4 1801.3,1709.6 1761.8,1687.4 1761.8,1641.4" fill="#0771b1" stroke="#0771b1" stroke-width="1"/>
<polygon points="1874.7,1619.2 1914.2,1641.4 1914.2,1687.4 1874.7,1709.6 1835.2,1687.4 1835.2,1641.4" fill="#c1cae2" stroke="#c1cae2" stroke-width="1"/>
<polygon points="1574.3,1754.3 1613.8,1776.5 1613.8,1822.5 1574.3,1844.7 1534.8,1822.5 1534.8,1776.5" fill="#c2cbe2" stroke="#c2cbe2" stroke-width="1"/>
<polygon points="1648.1,1754.3 1687.6,1776.5 1687.6,1822.5 1648.1,1844.7 1608.6,1822.5 1608.6,1776.5" fill="#b1c2de" stroke="#b1c2de" stroke-width="1"/>
<polygon points="1460.5,1146.35 1500,1168.55 1500,1214.55 1460.5,1236.75 1421,1214.55 1421,1168.55" fill="#4a98c5" stroke="#4a98c5" stroke-width="1"/>
<polygon points="1536.85,1146.35 1576.35,1168.55 1576.35,1214.55 1536.85,1236.75 1497.35,1214.55 1497.35,1168.55" fill="#2a88bc" stroke="#2a88bc" stroke-width="1"/>
<polygon points="1612.4,1146.35 1651.9,1168.55 1651.9,1214.55 1612.4,1236.75 1572.9,1214.55 1572.9,1168.55" fill="#a1bbda" stroke="#a1bbda" stroke-width="1"/>
<polygon points="1686.4,1146.35 1725.9,1168.55 1725.9,1214.55 1686.4,1236.75 1646.9,1214.55 1646.9,1168.55" fill="#f3edf5" stroke="#f3edf5" stroke-width="1"/>
<polygon points="1760.5,1146.35 1800,1168.55 1800,1214.55 1760.5,1236.75 1721,1214.55 1721,1168.55" fill="#ede8f3" stroke="#ede8f3" stroke-width="1"/>
<polygon points="1312.5,1281.45 1352,1303.65 1352,1349.65 1312.5,1371.85 1273,1349.65 1273,1303.65" fill="#c6cce3" stroke="#c6cce3" stroke-width="1"/>
<polygon points="1386.05,1281.45 1425.55,1303.65 1425.55,1349.65 1386.05,1371.85 1346.55,1349.65 1346.55,1303.65" fill="#60a1ca" stroke="#60a1ca" stroke-width="1"/>
<polygon points="1460.5,1281.45 1500,1303.65 1500,1349.65 1460.5,1371.85 1421,1349.65 1421,1303.65" fill="#034267" stroke="#034267" stroke-width="1"/>
<polygon points="1536.85,1281.45 1576.35,1303.65 1576.35,1349.65 1536.85,1371.85 1497.35,1349.65 1497.35,1303.65" fill="#02395a" stroke="#02395a" stroke-width="1"/>
<polygon points="1612.4,1281.45 1651.9,1303.65 1651.9,1349.65 1612.4,1371.85 1572.9,1349.65 1572.9,1303.65" fill="#045788" stroke="#045788" stroke-width="1"/>
<polygon points="1686.4,1281.45 1725.9,1303.65 1725.9,1349.65 1686.4,1371.85 1646.9,1349.65 1646.9,1303.65" fill="#3991c1" stroke="#3991c1" stroke-width="1"/>
<polygon points="1760.5,1281.45 1800,1303.65 1800,1349.65 1760.5,1371.85 1721,1349.65 1721,1303.65" fill="#dfddec" stroke="#dfddec" stroke-width="1"/>
<polygon points="1836.75,1281.45 1876.25,1303.65 1876.25,1349.65 1836.75,1371.85 1797.25,1349.65 1797.25,1303.65" fill="#e7e3f0" stroke="#e7e3f0" stroke-width="1"/>
<polygon points="1912.75,1281.45 1952.25,1303.65 1952.25,1349.65 1912.75,1371.85 1873.25,1349.65 1873.25,1303.65" fill="#dfddec" stroke="#dfddec" stroke-width="1"/>
<polygon points="1312.5,1416.55 1352,1438.75 1352,1484.75 1312.5,1506.95 1273,1484.75 1273,1438.75" fill="#c4cbe3" stroke="#c4cbe3" stroke-width="1"/>
<polygon points="1386.05,1416.55 1425.55,1438.75 1425.55,1484.75 1386.05,1506.95 1346.55,1484.75 1346.55,1438.75" fill="#b1c2de" stroke="#b1c2de" stroke-width="1"/>
<polygon points="1460.5,1416.55 1500,1438.75 1500,1484.75 1460.5,1506.95 1421,1484.75 1421,1438.75" fill="#afc1dd" stroke="#afc1dd" stroke-width="1"/>
<polygon points="1536.85,1416.55 1576.35,1438.75 1576.35,1484.75 1536.85,1506.95 1497.35,1484.75 1497.35,1438.75" fill="#e2dfee" stroke="#e2dfee" stroke-width="1"/>
<polygon points="1612.4,1416.55 1651.9,1438.75 1651.9,1484.75 1612.4,1506.95 1572.9,1484.75 1572.9,1438.75" fill="#fdf5fa" stroke="#fdf5fa" stroke-width="1"/>
<polygon points="1686.4,1416.55 1725.9,1438.75 1725.9,1484.75 1686.4,1506.95 1646.9,1484.75 1646.9,1438.75" fill="#c6cce3" stroke="#c6cce3" stroke-width="1"/>
<polygon points="1760.5,1416.55 1800,1438.75 1800,1484.75 1760.5,1506.95 1721,1484.75 1721,1438.75" fill="#93b5d6" stroke="#93b5d6" stroke-width="1"/>
<polygon points="1836.75,1416.55 1876.25,1438.75 1876.25,1484.75 1836.75,1506.95 1797.25,1484.75 1797.25,1438.75" fill="#75a9cf" stroke="#75a9cf" stroke-width="1"/>
<polygon points="1912.75,1416.55 1952.25,1438.75 1952.25,1484.75 1912.75,1506.95 1873.25,1484.75 1873.25,1438.75" fill="#eae6f1" stroke="#eae6f1" stroke-width="1"/>
<polygon points="1312.5,1551.65 1352,1573.85 1352,1619.85 1312.5,1642.05 1273,1619.85 1273,1573.85" fill="#b1c2de" stroke="#b1c2de" stroke-width="1"/>
<polygon points="1386.05,1551.65 1425.55,1573.85 1425.55,1619.85 1386.05,1642.05 1346.55,1619.85 1346.55,1573.85" fill="#c9cee4" stroke="#c9cee4" stroke-width="1"/>
<polygon points="1460.5,1551.65 1500,1573.85 1500,1619.85 1460.5,1642.05 1421,1619.85 1421,1573.85" fill="#89b1d4" stroke="#89b1d4" stroke-width="1"/>
<polygon points="1536.85,1551.65 1576.35,1573.85 1576.35,1619.85 1536.85,1642.05 1497.35,1619.85 1497.35,1573.85" fill="#4897c4" stroke="#4897c4" stroke-width="1"/>
<polygon points="1612.4,1551.65 1651.9,1573.85 1651.9,1619.85 1612.4,1642.05 1572.9,1619.85 1572.9,1573.85" fill="#045f95" stroke="#045f95" stroke-width="1"/>
<polygon points="1686.4,1551.65 1725.9,1573.85 1725.9,1619.85 1686.4,1642.05 1646.9,1619.85 1646.9,1573.85" fill="#023a5b" stroke="#023a5b" stroke-width="1"/>
<polygon points="1760.5,1551.65 1800,1573.85 1800,1619.85 1760.5,1642.05 1721,1619.85 1721,1573.85" fill="#046096" stroke="#046096" stroke-width="1"/>
<polygon points="1836.75,1551.65 1876.25,1573.85 1876.25,1619.85 1836.75,1642.05 1797.25,1619.85 1797.25,1573.85" fill="#2d8abd" stroke="#2d8abd" stroke-width="1"/>
<polygon points="1912.75,1551.65 1952.25,1573.85 1952.25,1619.85 1912.75,1642.05 1873.25,1619.85 1873.25,1573.85" fill="#7bacd1" stroke="#7bacd1" stroke-width="1"/>
<polygon points="1460.5,1686.75 1500,1708.95 1500,1754.95 1460.5,1777.15 1421,1754.95 1421,1708.95" fill="#acc0dd" stroke="#acc0dd" stroke-width="1"/>
<polygon points="1536.85,1686.75 1576.35,1708.95 1576.35,1754.95 1536.85,1777.15 1497.35,1754.95 1497.35,1708.95" fill="#bbc7e0" stroke="#bbc7e0" stroke-width="1"/>
<polygon points="1612.4,1686.75 1651.9,1708.95 1651.9,1754.95 1612.4,1777.15 1572.9,1754.95 1572.9,1708.95" fill="#73a9cf" stroke="#73a9cf" stroke-width="1"/>
<polygon points="1686.4,1686.75 1725.9,1708.95 1725.9,1754.95 1686.4,1777.15 1646.9,1754.95 1646.9,1708.95" fill="#4697c4" stroke="#4697c4" stroke-width="1"/>
<polygon points="1760.5,1686.75 1800,1708.95 1800,1754.95 1760.5,1777.15 1721,1754.95 1721,1708.95" fill="#acc0dd" stroke="#acc0dd" stroke-width="1"/>
</g>
<line x1="1661.51" y1="1178.05" x2="1562.39" y2="1745.45" stroke="#000" stroke-width="5.2" stroke-dasharray="8.6 9.6"/>
<line x1="1341.23" y1="1363.48" x2="1882.67" y2="1560.02" stroke="#000" stroke-width="5.2" stroke-dasharray="8.6 9.6"/>
<circle cx="1611.92" cy="1461.75" r="288" fill="none" stroke="#000" stroke-width="5.3"/>
<rect x="1906.95" y="1808.7" width="57.1" height="5.9" fill="#000"/>
<text x="1962.85" y="1853.2" font-family="'DejaVu Sans','Liberation Sans',sans-serif" font-size="33.4" text-anchor="end">100 pc</text>
</g>
<linearGradient id="grad1157" x1="0" y1="0" x2="0" y2="1"><stop offset="0" stop-color="#023858"/><stop offset="0.03" stop-color="#023f64"/><stop offset="0.06" stop-color="#034871"/><stop offset="0.09" stop-color="#03517e"/><stop offset="0.12" stop-color="#04598c"/><stop offset="0.16" stop-color="#045f95"/><stop offset="0.19" stop-color="#04649e"/><stop offset="0.22" stop-color="#056aa6"/><stop offset="0.25" stop-color="#056faf"/><stop offset="0.28" stop-color="#1077b4"/><stop offset="0.31" stop-color="#1c7fb8"/><stop offset="0.34" stop-color="#2987bc"/><stop offset="0.38" stop-color="#358fc0"/><stop offset="0.41" stop-color="#4496c3"/><stop offset="0.44" stop-color="#549cc7"/><stop offset="0.47" stop-color="#63a2cb"/><stop offset="0.5" stop-color="#73a9cf"/><stop offset="0.53" stop-color="#80aed2"/><stop offset="0.56" stop-color="#8cb3d5"/><stop offset="0.59" stop-color="#99b8d8"/><stop offset="0.62" stop-color="#a5bddb"/><stop offset="0.66" stop-color="#b0c2de"/><stop offset="0.69" stop-color="#bbc7e0"/><stop offset="0.72" stop-color="#c5cce3"/><stop offset="0.75" stop-color="#d0d1e6"/><stop offset="0.78" stop-color="#d7d6e9"/><stop offset="0.81" stop-color="#dedcec"/><stop offset="0.84" stop-color="#e5e1ef"/><stop offset="0.88" stop-color="#ece7f2"/><stop offset="0.91" stop-color="#f1ebf4"/><stop offset="0.94" stop-color="#f5eff6"/><stop offset="0.97" stop-color="#faf3f9"/><stop offset="1" stop-color="#fff7fb"/></linearGradient>
<rect x="1181.25" y="1511.25" width="35.8" height="383.05" fill="url(#grad1157)"/>
<line x1="1217.05" y1="1873.61" x2="1211.75" y2="1873.61" stroke="#000" stroke-width="1.2"/>
<text x="1220.85" y="1885.11" font-family="'DejaVu Sans','Liberation Sans',sans-serif" font-size="33.3">−0.03</text>
<line x1="1217.05" y1="1830.81" x2="1211.75" y2="1830.81" stroke="#000" stroke-width="1.2"/>
<text x="1220.85" y="1842.31" font-family="'DejaVu Sans','Liberation Sans',sans-serif" font-size="33.3">0.00</text>
<line x1="1217.05" y1="1788.02" x2="1211.75" y2="1788.02" stroke="#000" stroke-width="1.2"/>
<text x="1220.85" y="1799.52" font-family="'DejaVu Sans','Liberation Sans',sans-serif" font-size="33.3">0.03</text>
<line x1="1217.05" y1="1745.22" x2="1211.75" y2="1745.22" stroke="#000" stroke-width="1.2"/>
<text x="1220.85" y="1756.72" font-family="'DejaVu Sans','Liberation Sans',sans-serif" font-size="33.3">0.06</text>
<line x1="1217.05" y1="1702.42" x2="1211.75" y2="1702.42" stroke="#000" stroke-width="1.2"/>
<text x="1220.85" y="1713.92" font-family="'DejaVu Sans','Liberation Sans',sans-serif" font-size="33.3">0.09</text>
<line x1="1217.05" y1="1659.62" x2="1211.75" y2="1659.62" stroke="#000" stroke-width="1.2"/>
<text x="1220.85" y="1671.12" font-family="'DejaVu Sans','Liberation Sans',sans-serif" font-size="33.3">0.12</text>
<line x1="1217.05" y1="1616.82" x2="1211.75" y2="1616.82" stroke="#000" stroke-width="1.2"/>
<text x="1220.85" y="1628.32" font-family="'DejaVu Sans','Liberation Sans',sans-serif" font-size="33.3">0.15</text>
<line x1="1217.05" y1="1574.02" x2="1211.75" y2="1574.02" stroke="#000" stroke-width="1.2"/>
<text x="1220.85" y="1585.52" font-family="'DejaVu Sans','Liberation Sans',sans-serif" font-size="33.3">0.18</text>
<line x1="1217.05" y1="1531.22" x2="1211.75" y2="1531.22" stroke="#000" stroke-width="1.2"/>
<text x="1220.85" y="1542.72" font-family="'DejaVu Sans','Liberation Sans',sans-serif" font-size="33.3">0.21</text>
<rect x="1181.25" y="1511.25" width="35.8" height="383.05" fill="none" stroke="#000" stroke-width="1.3"/>
<line x1="1262.58" y1="1916.1" x2="1262.58" y2="1909.8" stroke="#000" stroke-width="3.2"/>
<line x1="1262.58" y1="1007.4" x2="1262.58" y2="1013.7" stroke="#000" stroke-width="3.2"/>
<text x="1262.58" y="1946.2" font-family="'DejaVu Sans','Liberation Sans',sans-serif" font-size="33.3" text-anchor="middle">10</text>
<line x1="1437.22" y1="1916.1" x2="1437.22" y2="1909.8" stroke="#000" stroke-width="3.2"/>
<line x1="1437.22" y1="1007.4" x2="1437.22" y2="1013.7" stroke="#000" stroke-width="3.2"/>
<text x="1437.22" y="1946.2" font-family="'DejaVu Sans','Liberation Sans',sans-serif" font-size="33.3" text-anchor="middle">5</text>
<line x1="1611.85" y1="1916.1" x2="1611.85" y2="1909.8" stroke="#000" stroke-width="3.2"/>
<line x1="1611.85" y1="1007.4" x2="1611.85" y2="1013.7" stroke="#000" stroke-width="3.2"/>
<text x="1611.85" y="1946.2" font-family="'DejaVu Sans','Liberation Sans',sans-serif" font-size="33.3" text-anchor="middle">0</text>
<line x1="1786.48" y1="1916.1" x2="1786.48" y2="1909.8" stroke="#000" stroke-width="3.2"/>
<line x1="1786.48" y1="1007.4" x2="1786.48" y2="1013.7" stroke="#000" stroke-width="3.2"/>
<text x="1786.48" y="1946.2" font-family="'DejaVu Sans','Liberation Sans',sans-serif" font-size="33.3" text-anchor="middle">−5</text>
<line x1="1961.12" y1="1916.1" x2="1961.12" y2="1909.8" stroke="#000" stroke-width="3.2"/>
<line x1="1961.12" y1="1007.4" x2="1961.12" y2="1013.7" stroke="#000" stroke-width="3.2"/>
<text x="1961.12" y="1946.2" font-family="'DejaVu Sans','Liberation Sans',sans-serif" font-size="33.3" text-anchor="middle">−10</text>
<line x1="1157.8" y1="1811.02" x2="1164.1" y2="1811.02" stroke="#000" stroke-width="3.2"/>
<line x1="2065.9" y1="1811.02" x2="2059.6" y2="1811.02" stroke="#000" stroke-width="3.2"/>
<text x="1153.8" y="1822.52" font-family="'DejaVu Sans','Liberation Sans',sans-serif" font-size="33.3" text-anchor="end">−10</text>
<line x1="1157.8" y1="1636.38" x2="1164.1" y2="1636.38" stroke="#000" stroke-width="3.2"/>
<line x1="2065.9" y1="1636.38" x2="2059.6" y2="1636.38" stroke="#000" stroke-width="3.2"/>
<text x="1153.8" y="1647.88" font-family="'DejaVu Sans','Liberation Sans',sans-serif" font-size="33.3" text-anchor="end">−5</text>
<line x1="1157.8" y1="1461.75" x2="1164.1" y2="1461.75" stroke="#000" stroke-width="3.2"/>
<line x1="2065.9" y1="1461.75" x2="2059.6" y2="1461.75" stroke="#000" stroke-width="3.2"/>
<text x="1153.8" y="1473.25" font-family="'DejaVu Sans','Liberation Sans',sans-serif" font-size="33.3" text-anchor="end">0</text>
<line x1="1157.8" y1="1287.12" x2="1164.1" y2="1287.12" stroke="#000" stroke-width="3.2"/>
<line x1="2065.9" y1="1287.12" x2="2059.6" y2="1287.12" stroke="#000" stroke-width="3.2"/>
<text x="1153.8" y="1298.62" font-family="'DejaVu Sans','Liberation Sans',sans-serif" font-size="33.3" text-anchor="end">5</text>
<line x1="1157.8" y1="1112.48" x2="1164.1" y2="1112.48" stroke="#000" stroke-width="3.2"/>
<line x1="2065.9" y1="1112.48" x2="2059.6" y2="1112.48" stroke="#000" stroke-width="3.2"/>
<text x="1153.8" y="1123.98" font-family="'DejaVu Sans','Liberation Sans',sans-serif" font-size="33.3" text-anchor="end">10</text>
<rect x="1157.8" y="1007.4" width="908.1" height="908.7" fill="none" stroke="#000" stroke-width="3.7" stroke-linejoin="miter"/>
<text x="1611.85" y="1979.9" font-family="'DejaVu Sans','Liberation Sans',sans-serif" font-size="33.4" text-anchor="middle">R.A. offset (arcsec)</text>
<text transform="translate(1074.85 1461.75) rotate(-90)" font-family="'DejaVu Sans','Liberation Sans',sans-serif" font-size="33.3" text-anchor="middle">Decl. offset (arcsec)</text>
<text x="1184.66" y="1071.2" font-family="'DejaVu Sans','Liberation Sans',sans-serif" font-size="36.5" font-weight="bold">(c) PC2</text>
</svg>
</body></html>
